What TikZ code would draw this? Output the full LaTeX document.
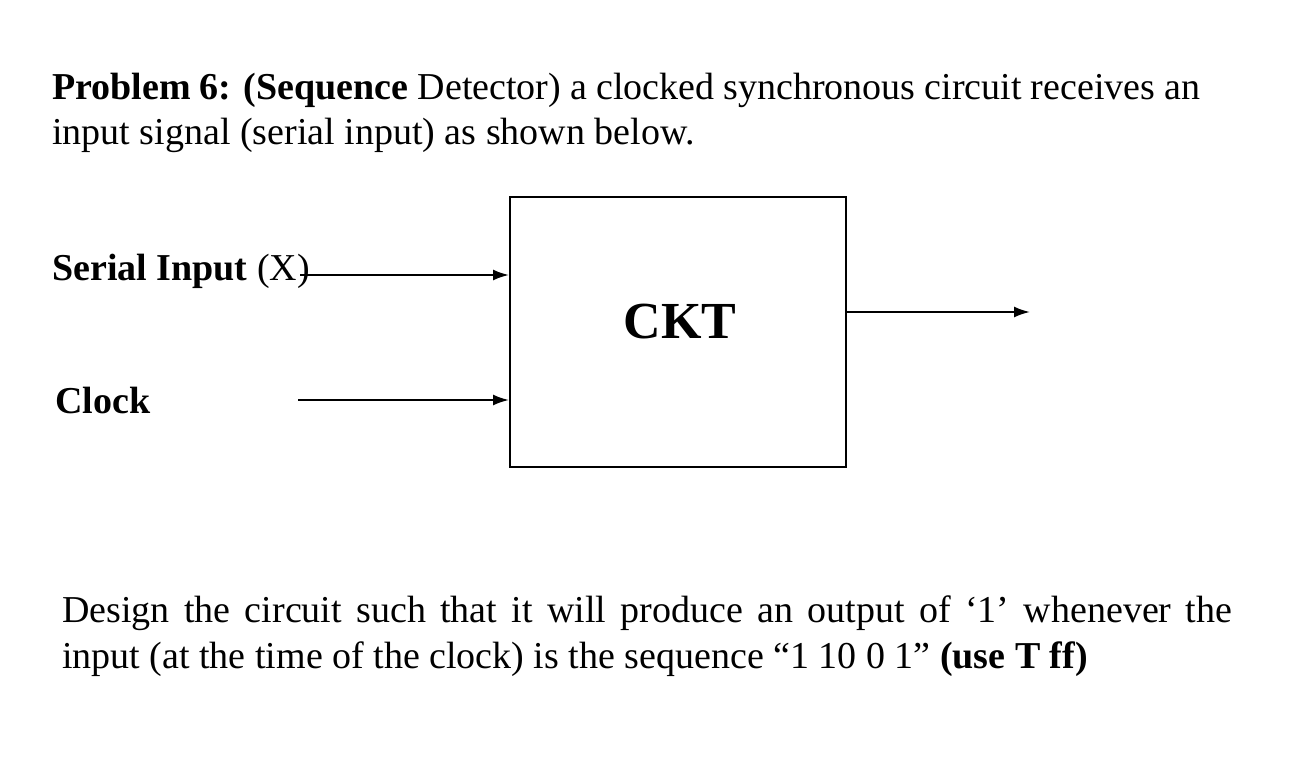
\documentclass[tikz,border=0pt]{standalone}
\usepackage{fontspec}
\setmainfont{Liberation Serif}
\usetikzlibrary{arrows.meta}
\begin{document}
\begin{tikzpicture}[x=1pt,y=-1pt,
  txt/.style={anchor=base west,inner sep=0pt,font=\fontsize{38}{44}\selectfont},
  wire/.style={line width=2pt,-{Latex[length=16pt,width=11pt]}}]
\useasboundingbox[fill=white] (0,0) rectangle (1306,762);
\node[txt] (l1) at (52,100) {\makebox[1148pt][s]{\textbf{Problem 6: (Sequence} Detector) a clocked synchronous circuit receives an}};
\node[txt] (l2) at (52,145) {input signal (serial input) as shown below.};
\node[draw,line width=2pt,minimum width=336pt,minimum height=270pt,inner sep=0pt] (ckt) at (678,332) {};
\node[font=\fontsize{52}{58}\selectfont\bfseries] (lab) at (680,322) {CKT};
\node[txt] (si) at (52,280) {\textbf{Serial Input} (X)};
\node[txt] (clk) at (55,413) {\textbf{Clock}};
\coordinate (a1) at (300,275);
\coordinate (a2) at (298,400);
\coordinate (out) at (1030,312);
\draw[wire] (a1) -- (ckt.west |- a1);
\draw[wire] (a2) -- (ckt.west |- a2);
\draw[wire] (ckt.east |- out) -- (out);
\node[txt] (p1) at (62,622) {\makebox[1170pt][s]{Design the circuit such that it will produce an output of `1' whenever the}};
\node[txt] (p2) at (62,668) {input (at the time of the clock) is the sequence ``1 10 0 1'' \textbf{(use T ff)}};
\end{tikzpicture}
\end{document}
